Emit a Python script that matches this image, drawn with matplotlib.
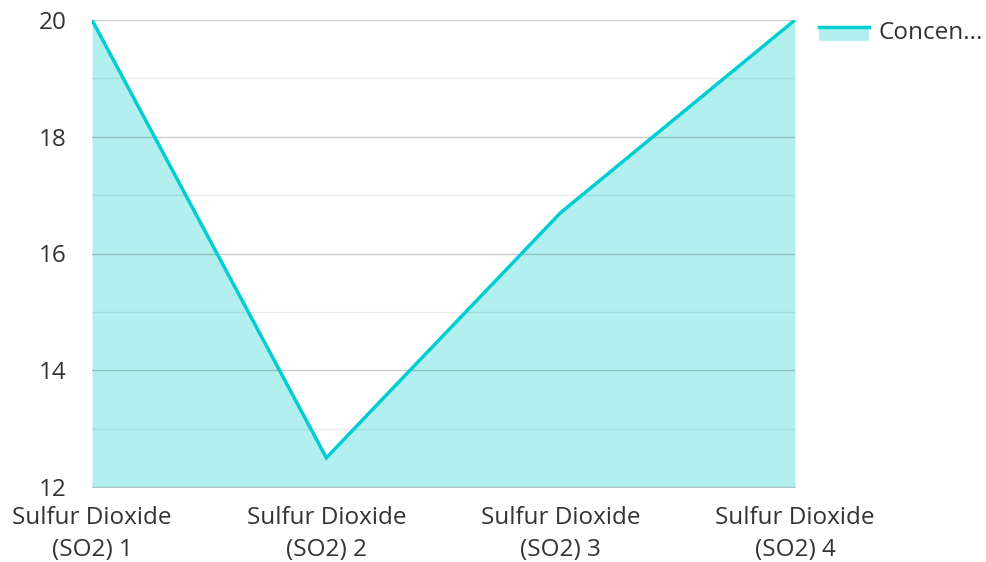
import matplotlib.pyplot as plt
from matplotlib.lines import Line2D
from matplotlib.patches import Rectangle
from matplotlib.legend_handler import HandlerBase

plt.rcParams['font.family'] = ['Open Sans', 'DejaVu Sans']

categories = ['Sulfur Dioxide\n(SO2) 1', 'Sulfur Dioxide\n(SO2) 2',
              'Sulfur Dioxide\n(SO2) 3', 'Sulfur Dioxide\n(SO2) 4']
values = [20, 12.5, 16.7, 20]
series_name = 'Concen...'

lineColor = '#00CED1'
fillColor = '#B2EFEE'
textColor = '#333333'
fs = 17.5


class AreaHandler(HandlerBase):
    # line on top, filled box under it
    def create_artists(self, legend, orig_handle, xdescent, ydescent,
                       width, height, fontsize, trans):
        top = height * 0.75
        rect = Rectangle((-xdescent, -ydescent - height * 0.2), width, top + height * 0.2,
                         facecolor=fillColor, edgecolor='none', transform=trans)
        line = Line2D([-xdescent, -xdescent + width], [top, top],
                      color=lineColor, linewidth=2.5, transform=trans)
        return [rect, line]


fig = plt.figure(figsize=(9.86, 5.62), dpi=100)
ax = fig.add_axes([92/986, 75/562, 703/986, 467/562])

x = list(range(len(categories)))
ax.fill_between(x, 12, values, color=fillColor, linewidth=0, zorder=1)
ax.plot(x, values, color=lineColor, linewidth=2.5, zorder=3, solid_joinstyle='miter')

ax.set_xlim(0, len(categories) - 1)
ax.set_ylim(12, 20)
ax.set_yticks([12, 14, 16, 18, 20])
ax.set_yticks([13, 15, 17, 19], minor=True)
ax.set_xticks(x)
ax.set_xticklabels(categories)

ax.grid(axis='y', which='major', color='#000000', alpha=0.2, linewidth=1, zorder=2)
ax.grid(axis='y', which='minor', color='#000000', alpha=0.08, linewidth=1, zorder=2)
ax.grid(axis='x', visible=False)

for s in ['top', 'right', 'left']:
    ax.spines[s].set_visible(False)
ax.spines['bottom'].set_color('#000000')
ax.spines['bottom'].set_alpha(0.2)
ax.spines['bottom'].set_zorder(2)

ax.tick_params(axis='both', which='both', length=0, colors=textColor, labelsize=fs)
ax.tick_params(axis='y', pad=18.5)
ax.tick_params(axis='x', pad=13.5)
for lbl in ax.get_xticklabels():
    lbl.set_linespacing(1.45)

leg = fig.legend([object()], [series_name], loc='upper left',
                 bbox_to_anchor=(797/986, 1 + 1/562),
                 frameon=False, fontsize=fs, handlelength=2.05, handleheight=0.6,
                 handletextpad=0.41, labelcolor=textColor,
                 handler_map={object: AreaHandler()})

plt.savefig('out.png', dpi=100)
